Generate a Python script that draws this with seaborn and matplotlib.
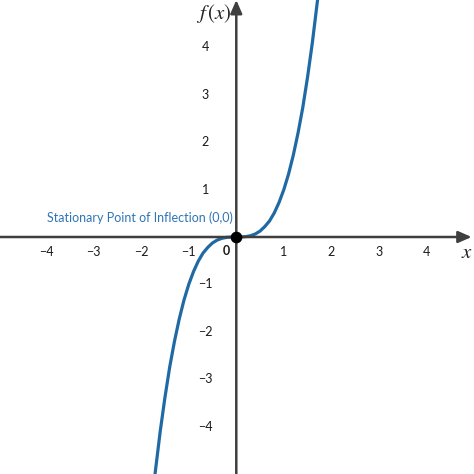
import matplotlib.pyplot as plt
import seaborn as sns
import pandas as pd

# points
curve_x = [-1.72, -1.6, -1.5, -1.4, -1.3, -1.2, -1.1, -1.0, -0.9, -0.8, -0.7, -0.6,
           -0.5, -0.4, -0.3, -0.2, -0.1, 0.0, 0.1, 0.2, 0.3, 0.4, 0.5, 0.6, 0.7,
           0.8, 0.9, 1.0, 1.1, 1.2, 1.3, 1.4, 1.5, 1.6, 1.72]
curve_y = [-5.09, -4.10, -3.38, -2.74, -2.20, -1.73, -1.33, -1.00, -0.73, -0.51, -0.34, -0.22,
           -0.125, -0.064, -0.027, -0.008, -0.001, 0.0, 0.001, 0.008, 0.027, 0.064, 0.125, 0.22, 0.34,
           0.51, 0.73, 1.00, 1.33, 1.73, 2.20, 2.74, 3.38, 4.10, 5.09]
x_ticks = [-4, -3, -2, -1, 1, 2, 3, 4]
y_ticks = [-4, -3, -2, -1, 1, 2, 3, 4]
point_label = "Stationary Point of Inflection (0,0)"

df = pd.DataFrame({"x": curve_x, "y": curve_y})

sns.set_style("white")
plt.rcParams["font.family"] = ["Lato", "DejaVu Sans"]
plt.rcParams["mathtext.fontset"] = "stix"

fig = plt.figure(figsize=(4.74, 4.74), dpi=100)
ax = fig.add_axes([0, 0, 1, 1])
ax.set_xlim(-4.97, 5.0)
ax.set_ylim(-5.0, 5.0)
ax.axis("off")

axis_col = "#3f3f3f"
ax.annotate("", xy=(4.95, 0), xytext=(-4.97, 0),
            arrowprops=dict(arrowstyle="-|>,head_length=0.8,head_width=0.35", color=axis_col, lw=1.8,
                            shrinkA=0, shrinkB=0))
ax.annotate("", xy=(0, 5.0), xytext=(0, -5.0),
            arrowprops=dict(arrowstyle="-|>,head_length=0.8,head_width=0.35", color=axis_col, lw=1.8,
                            shrinkA=0, shrinkB=0))

sns.lineplot(data=df, x="x", y="y", ax=ax, color="#1f6aa5", linewidth=2.3, sort=False)
ax.scatter([0], [0], s=55, color="black", zorder=5)

tick_col = "#1a1a1a"
for t in x_ticks:
    ax.text(t, -0.32, f"\u2212{abs(t)}" if t < 0 else str(t), ha="center", va="center", fontsize=9, color=tick_col)
for t in y_ticks:
    ax.text(-0.65, t, f"\u2212{abs(t)}" if t < 0 else str(t), ha="center", va="center", fontsize=9, color=tick_col)
ax.text(-0.2, -0.3, "0", ha="center", va="center", fontsize=9, fontweight="bold", color=tick_col)

ax.text(4.85, -0.32, "$x$", ha="center", va="center", fontsize=15, color="#222222")
ax.text(-0.1, 4.72, "$f\\,(x)$", ha="right", va="center", fontsize=15, color="#222222")
ax.text(-0.08, 0.4, point_label, ha="right", va="center", fontsize=9, color="#2e75b6")

fig.savefig("out.png", dpi=100)
